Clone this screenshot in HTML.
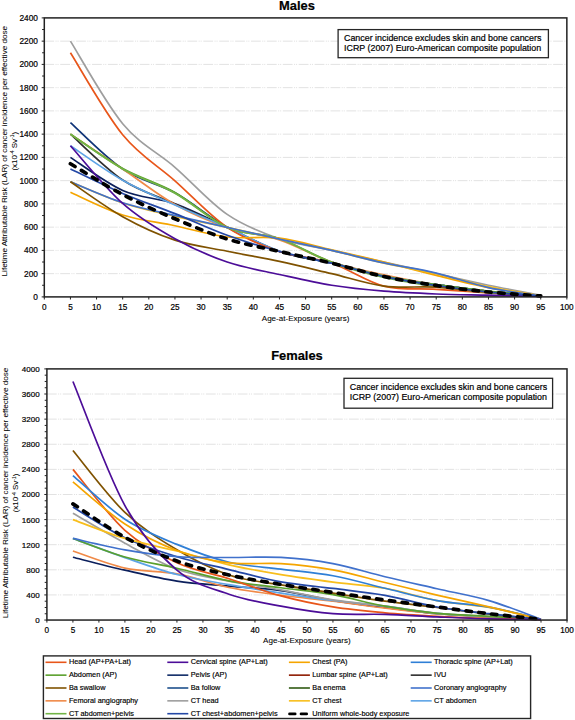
<!DOCTYPE html>
<html><head><meta charset="utf-8"><style>
html,body{margin:0;padding:0;background:#fff;}
svg{display:block;font-family:"Liberation Sans", sans-serif;}
text{fill:#000;stroke:#000;stroke-width:0.2px;}
</style></head><body>
<svg width="575" height="720" viewBox="0 0 575 720">
<text x="297.0" y="9.6" text-anchor="middle" font-size="12.9" font-weight="bold">Males</text>
<line x1="44.3" y1="273.65" x2="566.9" y2="273.65" stroke="#e2e2e2" stroke-width="1" stroke-dasharray="9.8,1.4,1.1,0.9,1.1,1.6"/>
<line x1="44.3" y1="250.40" x2="566.9" y2="250.40" stroke="#e2e2e2" stroke-width="1" stroke-dasharray="9.8,1.4,1.1,0.9,1.1,1.6"/>
<line x1="44.3" y1="227.15" x2="566.9" y2="227.15" stroke="#e2e2e2" stroke-width="1" stroke-dasharray="9.8,1.4,1.1,0.9,1.1,1.6"/>
<line x1="44.3" y1="203.90" x2="566.9" y2="203.90" stroke="#e2e2e2" stroke-width="1" stroke-dasharray="9.8,1.4,1.1,0.9,1.1,1.6"/>
<line x1="44.3" y1="180.65" x2="566.9" y2="180.65" stroke="#e2e2e2" stroke-width="1" stroke-dasharray="9.8,1.4,1.1,0.9,1.1,1.6"/>
<line x1="44.3" y1="157.40" x2="566.9" y2="157.40" stroke="#e2e2e2" stroke-width="1" stroke-dasharray="9.8,1.4,1.1,0.9,1.1,1.6"/>
<line x1="44.3" y1="134.15" x2="566.9" y2="134.15" stroke="#e2e2e2" stroke-width="1" stroke-dasharray="9.8,1.4,1.1,0.9,1.1,1.6"/>
<line x1="44.3" y1="110.90" x2="566.9" y2="110.90" stroke="#e2e2e2" stroke-width="1" stroke-dasharray="9.8,1.4,1.1,0.9,1.1,1.6"/>
<line x1="44.3" y1="87.65" x2="566.9" y2="87.65" stroke="#e2e2e2" stroke-width="1" stroke-dasharray="9.8,1.4,1.1,0.9,1.1,1.6"/>
<line x1="44.3" y1="64.40" x2="566.9" y2="64.40" stroke="#e2e2e2" stroke-width="1" stroke-dasharray="9.8,1.4,1.1,0.9,1.1,1.6"/>
<line x1="44.3" y1="41.15" x2="566.9" y2="41.15" stroke="#e2e2e2" stroke-width="1" stroke-dasharray="9.8,1.4,1.1,0.9,1.1,1.6"/>
<line x1="41.7" y1="296.90" x2="44.3" y2="296.90" stroke="#222" stroke-width="1"/>
<text x="37.9" y="299.90" text-anchor="end" font-size="8.30">0</text>
<line x1="42.1" y1="285.27" x2="44.3" y2="285.27" stroke="#222" stroke-width="1"/>
<line x1="41.7" y1="273.65" x2="44.3" y2="273.65" stroke="#222" stroke-width="1"/>
<text x="37.9" y="276.65" text-anchor="end" font-size="8.30">200</text>
<line x1="42.1" y1="262.02" x2="44.3" y2="262.02" stroke="#222" stroke-width="1"/>
<line x1="41.7" y1="250.40" x2="44.3" y2="250.40" stroke="#222" stroke-width="1"/>
<text x="37.9" y="253.40" text-anchor="end" font-size="8.30">400</text>
<line x1="42.1" y1="238.77" x2="44.3" y2="238.77" stroke="#222" stroke-width="1"/>
<line x1="41.7" y1="227.15" x2="44.3" y2="227.15" stroke="#222" stroke-width="1"/>
<text x="37.9" y="230.15" text-anchor="end" font-size="8.30">600</text>
<line x1="42.1" y1="215.52" x2="44.3" y2="215.52" stroke="#222" stroke-width="1"/>
<line x1="41.7" y1="203.90" x2="44.3" y2="203.90" stroke="#222" stroke-width="1"/>
<text x="37.9" y="206.90" text-anchor="end" font-size="8.30">800</text>
<line x1="42.1" y1="192.27" x2="44.3" y2="192.27" stroke="#222" stroke-width="1"/>
<line x1="41.7" y1="180.65" x2="44.3" y2="180.65" stroke="#222" stroke-width="1"/>
<text x="37.9" y="183.65" text-anchor="end" font-size="8.30">1000</text>
<line x1="42.1" y1="169.02" x2="44.3" y2="169.02" stroke="#222" stroke-width="1"/>
<line x1="41.7" y1="157.40" x2="44.3" y2="157.40" stroke="#222" stroke-width="1"/>
<text x="37.9" y="160.40" text-anchor="end" font-size="8.30">1200</text>
<line x1="42.1" y1="145.77" x2="44.3" y2="145.77" stroke="#222" stroke-width="1"/>
<line x1="41.7" y1="134.15" x2="44.3" y2="134.15" stroke="#222" stroke-width="1"/>
<text x="37.9" y="137.15" text-anchor="end" font-size="8.30">1400</text>
<line x1="42.1" y1="122.52" x2="44.3" y2="122.52" stroke="#222" stroke-width="1"/>
<line x1="41.7" y1="110.90" x2="44.3" y2="110.90" stroke="#222" stroke-width="1"/>
<text x="37.9" y="113.90" text-anchor="end" font-size="8.30">1600</text>
<line x1="42.1" y1="99.27" x2="44.3" y2="99.27" stroke="#222" stroke-width="1"/>
<line x1="41.7" y1="87.65" x2="44.3" y2="87.65" stroke="#222" stroke-width="1"/>
<text x="37.9" y="90.65" text-anchor="end" font-size="8.30">1800</text>
<line x1="42.1" y1="76.02" x2="44.3" y2="76.02" stroke="#222" stroke-width="1"/>
<line x1="41.7" y1="64.40" x2="44.3" y2="64.40" stroke="#222" stroke-width="1"/>
<text x="37.9" y="67.40" text-anchor="end" font-size="8.30">2000</text>
<line x1="42.1" y1="52.77" x2="44.3" y2="52.77" stroke="#222" stroke-width="1"/>
<line x1="41.7" y1="41.15" x2="44.3" y2="41.15" stroke="#222" stroke-width="1"/>
<text x="37.9" y="44.15" text-anchor="end" font-size="8.30">2200</text>
<line x1="42.1" y1="29.52" x2="44.3" y2="29.52" stroke="#222" stroke-width="1"/>
<line x1="41.7" y1="17.90" x2="44.3" y2="17.90" stroke="#222" stroke-width="1"/>
<text x="37.9" y="20.90" text-anchor="end" font-size="8.30">2400</text>
<line x1="44.30" y1="296.9" x2="44.30" y2="299.5" stroke="#222" stroke-width="1"/>
<text x="44.30" y="310.0" text-anchor="middle" font-size="8.2">0</text>
<line x1="70.43" y1="296.9" x2="70.43" y2="299.5" stroke="#222" stroke-width="1"/>
<text x="70.43" y="310.0" text-anchor="middle" font-size="8.2">5</text>
<line x1="96.56" y1="296.9" x2="96.56" y2="299.5" stroke="#222" stroke-width="1"/>
<text x="96.56" y="310.0" text-anchor="middle" font-size="8.2">10</text>
<line x1="122.68" y1="296.9" x2="122.68" y2="299.5" stroke="#222" stroke-width="1"/>
<text x="122.68" y="310.0" text-anchor="middle" font-size="8.2">15</text>
<line x1="148.81" y1="296.9" x2="148.81" y2="299.5" stroke="#222" stroke-width="1"/>
<text x="148.81" y="310.0" text-anchor="middle" font-size="8.2">20</text>
<line x1="174.94" y1="296.9" x2="174.94" y2="299.5" stroke="#222" stroke-width="1"/>
<text x="174.94" y="310.0" text-anchor="middle" font-size="8.2">25</text>
<line x1="201.06" y1="296.9" x2="201.06" y2="299.5" stroke="#222" stroke-width="1"/>
<text x="201.06" y="310.0" text-anchor="middle" font-size="8.2">30</text>
<line x1="227.19" y1="296.9" x2="227.19" y2="299.5" stroke="#222" stroke-width="1"/>
<text x="227.19" y="310.0" text-anchor="middle" font-size="8.2">35</text>
<line x1="253.32" y1="296.9" x2="253.32" y2="299.5" stroke="#222" stroke-width="1"/>
<text x="253.32" y="310.0" text-anchor="middle" font-size="8.2">40</text>
<line x1="279.45" y1="296.9" x2="279.45" y2="299.5" stroke="#222" stroke-width="1"/>
<text x="279.45" y="310.0" text-anchor="middle" font-size="8.2">45</text>
<line x1="305.58" y1="296.9" x2="305.58" y2="299.5" stroke="#222" stroke-width="1"/>
<text x="305.58" y="310.0" text-anchor="middle" font-size="8.2">50</text>
<line x1="331.70" y1="296.9" x2="331.70" y2="299.5" stroke="#222" stroke-width="1"/>
<text x="331.70" y="310.0" text-anchor="middle" font-size="8.2">55</text>
<line x1="357.83" y1="296.9" x2="357.83" y2="299.5" stroke="#222" stroke-width="1"/>
<text x="357.83" y="310.0" text-anchor="middle" font-size="8.2">60</text>
<line x1="383.96" y1="296.9" x2="383.96" y2="299.5" stroke="#222" stroke-width="1"/>
<text x="383.96" y="310.0" text-anchor="middle" font-size="8.2">65</text>
<line x1="410.09" y1="296.9" x2="410.09" y2="299.5" stroke="#222" stroke-width="1"/>
<text x="410.09" y="310.0" text-anchor="middle" font-size="8.2">70</text>
<line x1="436.21" y1="296.9" x2="436.21" y2="299.5" stroke="#222" stroke-width="1"/>
<text x="436.21" y="310.0" text-anchor="middle" font-size="8.2">75</text>
<line x1="462.34" y1="296.9" x2="462.34" y2="299.5" stroke="#222" stroke-width="1"/>
<text x="462.34" y="310.0" text-anchor="middle" font-size="8.2">80</text>
<line x1="488.47" y1="296.9" x2="488.47" y2="299.5" stroke="#222" stroke-width="1"/>
<text x="488.47" y="310.0" text-anchor="middle" font-size="8.2">85</text>
<line x1="514.60" y1="296.9" x2="514.60" y2="299.5" stroke="#222" stroke-width="1"/>
<text x="514.60" y="310.0" text-anchor="middle" font-size="8.2">90</text>
<line x1="540.72" y1="296.9" x2="540.72" y2="299.5" stroke="#222" stroke-width="1"/>
<text x="540.72" y="310.0" text-anchor="middle" font-size="8.2">95</text>
<line x1="566.85" y1="296.9" x2="566.85" y2="299.5" stroke="#222" stroke-width="1"/>
<text x="566.85" y="310.0" text-anchor="middle" font-size="8.2">100</text>
<text x="305.6" y="320.9" text-anchor="middle" font-size="8.05" style="stroke-width:0.08px">Age-at-Exposure (years)</text>
<text transform="translate(7.4,151.2) rotate(-90)" text-anchor="middle" font-size="8.1" style="stroke-width:0.04px">Lifetime Attributable Risk (LAR) of cancer incidence per effective dose</text>
<text transform="translate(17.0,151.2) rotate(-90)" text-anchor="middle" font-size="8.0" style="stroke-width:0.04px">(x10<tspan font-size="5.0" dy="-2.7">-4</tspan><tspan dy="2.7"> Sv</tspan><tspan font-size="5.0" dy="-2.7">-1</tspan><tspan dy="2.7">)</tspan></text>
<path d="M70.43,157.40 C79.14,162.90 105.26,182.66 122.68,190.41 C140.10,198.16 157.52,197.74 174.94,203.90 C192.36,210.06 209.77,219.46 227.19,227.38 C244.61,235.31 262.03,245.48 279.45,251.45 C296.87,257.41 314.28,259.10 331.70,263.19 C349.12,267.28 366.54,272.39 383.96,275.97 C401.38,279.56 418.79,282.14 436.21,284.69 C453.63,287.25 471.05,289.46 488.47,291.32 C505.89,293.18 532.01,295.10 540.72,295.85" fill="none" stroke="#0B1F5C" stroke-width="1.7" stroke-linejoin="round"/>
<path d="M70.43,122.52 C79.14,130.27 105.26,157.30 122.68,169.02 C140.10,180.75 157.52,183.13 174.94,192.86 C192.36,202.58 209.77,217.62 227.19,227.38 C244.61,237.15 262.03,245.48 279.45,251.45 C296.87,257.41 314.28,259.10 331.70,263.19 C349.12,267.28 366.54,272.39 383.96,275.97 C401.38,279.56 418.79,282.14 436.21,284.69 C453.63,287.25 471.05,289.46 488.47,291.32 C505.89,293.18 532.01,295.10 540.72,295.85" fill="none" stroke="#0E3377" stroke-width="1.7" stroke-linejoin="round"/>
<path d="M70.43,134.15 C79.14,141.80 105.26,168.44 122.68,180.07 C140.10,191.69 157.52,196.01 174.94,203.90 C192.36,211.79 209.77,219.46 227.19,227.38 C244.61,235.31 262.03,245.48 279.45,251.45 C296.87,257.41 314.28,259.10 331.70,263.19 C349.12,267.28 366.54,272.39 383.96,275.97 C401.38,279.56 418.79,282.14 436.21,284.69 C453.63,287.25 471.05,289.46 488.47,291.32 C505.89,293.18 532.01,295.10 540.72,295.85" fill="none" stroke="#2E2E2E" stroke-width="1.7" stroke-linejoin="round"/>
<path d="M70.43,41.15 C79.14,54.91 105.26,102.67 122.68,123.69 C140.10,144.71 157.52,152.17 174.94,167.28 C192.36,182.39 209.77,202.45 227.19,214.36 C244.61,226.28 262.03,232.77 279.45,238.77 C296.87,244.78 314.28,246.52 331.70,250.40 C349.12,254.27 366.54,258.15 383.96,262.02 C401.38,265.90 418.79,269.77 436.21,273.65 C453.63,277.52 471.05,281.69 488.47,285.27 C505.89,288.86 532.01,293.51 540.72,295.16" fill="none" stroke="#9E9E9E" stroke-width="1.7" stroke-linejoin="round"/>
<path d="M70.43,134.15 C79.14,139.96 105.26,157.30 122.68,169.02 C140.10,180.75 157.52,194.75 174.94,204.48 C192.36,214.21 209.77,221.47 227.19,227.38 C244.61,233.29 262.03,234.16 279.45,239.94 C296.87,245.71 314.28,256.21 331.70,262.02 C349.12,267.84 366.54,271.03 383.96,274.81 C401.38,278.59 418.79,281.94 436.21,284.69 C453.63,287.44 471.05,289.46 488.47,291.32 C505.89,293.18 532.01,295.10 540.72,295.85" fill="none" stroke="#F08A48" stroke-width="1.7" stroke-linejoin="round"/>
<path d="M70.43,145.77 C79.14,151.53 105.26,170.42 122.68,180.30 C140.10,190.18 157.52,197.22 174.94,205.06 C192.36,212.91 209.77,219.73 227.19,227.38 C244.61,235.04 262.03,245.01 279.45,250.98 C296.87,256.95 314.28,259.02 331.70,263.19 C349.12,267.35 366.54,272.39 383.96,275.97 C401.38,279.56 418.79,282.14 436.21,284.69 C453.63,287.25 471.05,289.46 488.47,291.32 C505.89,293.18 532.01,295.10 540.72,295.85" fill="none" stroke="#5DA4E6" stroke-width="1.7" stroke-linejoin="round"/>
<path d="M70.43,52.77 C79.14,66.43 105.26,113.38 122.68,134.73 C140.10,156.08 157.52,165.44 174.94,180.88 C192.36,196.32 209.77,215.62 227.19,227.38 C244.61,239.14 262.03,245.48 279.45,251.45 C296.87,257.41 314.28,257.41 331.70,263.19 C349.12,268.96 366.54,281.73 383.96,286.09 C401.38,290.45 418.79,288.22 436.21,289.34 C453.63,290.47 471.05,291.73 488.47,292.83 C505.89,293.94 532.01,295.45 540.72,295.97" fill="none" stroke="#E8561A" stroke-width="1.7" stroke-linejoin="round"/>
<path d="M70.43,134.15 C79.14,139.87 105.26,158.74 122.68,168.44 C140.10,178.15 157.52,182.57 174.94,192.39 C192.36,202.21 209.77,219.65 227.19,227.38 C244.61,235.11 262.03,233.00 279.45,238.77 C296.87,244.55 314.28,255.82 331.70,262.02 C349.12,268.22 366.54,272.20 383.96,275.97 C401.38,279.75 418.79,282.17 436.21,284.69 C453.63,287.21 471.05,289.25 488.47,291.09 C505.89,292.93 532.01,294.96 540.72,295.74" fill="none" stroke="#5AA02C" stroke-width="1.7" stroke-linejoin="round"/>
<path d="M70.43,134.15 C79.14,139.96 105.26,159.18 122.68,169.02 C140.10,178.87 157.52,183.48 174.94,193.20 C192.36,202.93 209.77,219.79 227.19,227.38 C244.61,234.98 262.03,232.90 279.45,238.77 C296.87,244.65 314.28,256.17 331.70,262.61 C349.12,269.04 366.54,273.40 383.96,277.37 C401.38,281.34 418.79,283.92 436.21,286.44 C453.63,288.96 471.05,290.85 488.47,292.48 C505.89,294.11 532.01,295.58 540.72,296.20" fill="none" stroke="#72B446" stroke-width="1.7" stroke-linejoin="round"/>
<path d="M70.43,192.27 C79.14,196.05 105.26,209.36 122.68,214.94 C140.10,220.52 157.52,222.07 174.94,225.75 C192.36,229.44 209.77,234.96 227.19,237.03 C244.61,239.10 262.03,236.06 279.45,238.19 C296.87,240.32 314.28,245.85 331.70,249.82 C349.12,253.79 366.54,257.76 383.96,262.02 C401.38,266.29 418.79,271.13 436.21,275.39 C453.63,279.66 471.05,284.21 488.47,287.60 C505.89,290.99 532.01,294.38 540.72,295.74" fill="none" stroke="#F5A500" stroke-width="1.7" stroke-linejoin="round"/>
<path d="M70.43,181.81 C79.14,185.34 105.26,197.22 122.68,202.97 C140.10,208.72 157.52,212.27 174.94,216.34 C192.36,220.41 209.77,223.58 227.19,227.38 C244.61,231.18 262.03,235.29 279.45,239.12 C296.87,242.96 314.28,246.39 331.70,250.40 C349.12,254.41 366.54,259.31 383.96,263.19 C401.38,267.06 418.79,269.74 436.21,273.65 C453.63,277.56 471.05,282.95 488.47,286.67 C505.89,290.39 532.01,294.42 540.72,295.97" fill="none" stroke="#F8BE1C" stroke-width="1.7" stroke-linejoin="round"/>
<path d="M70.43,181.81 C79.14,185.30 105.26,197.12 122.68,202.74 C140.10,208.36 157.52,211.42 174.94,215.52 C192.36,219.63 209.77,223.45 227.19,227.38 C244.61,231.32 262.03,235.29 279.45,239.12 C296.87,242.96 314.28,246.43 331.70,250.40 C349.12,254.37 366.54,259.18 383.96,262.95 C401.38,266.73 418.79,268.96 436.21,273.07 C453.63,277.18 471.05,283.76 488.47,287.60 C505.89,291.44 532.01,294.67 540.72,296.09" fill="none" stroke="#4071CC" stroke-width="1.7" stroke-linejoin="round"/>
<path d="M70.43,181.81 C79.14,187.62 105.26,206.96 122.68,216.69 C140.10,226.41 157.52,234.42 174.94,240.17 C192.36,245.92 209.77,247.67 227.19,251.21 C244.61,254.76 262.03,257.70 279.45,261.44 C296.87,265.18 314.28,269.54 331.70,273.65 C349.12,277.76 366.54,283.84 383.96,286.09 C401.38,288.34 418.79,286.11 436.21,287.13 C453.63,288.16 471.05,290.72 488.47,292.25 C505.89,293.78 532.01,295.64 540.72,296.32" fill="none" stroke="#7F5200" stroke-width="1.7" stroke-linejoin="round"/>
<path d="M70.43,145.77 C79.14,155.38 105.26,187.93 122.68,203.43 C140.10,218.93 157.52,229.01 174.94,238.77 C192.36,248.54 209.77,256.08 227.19,262.02 C244.61,267.97 262.03,270.59 279.45,274.46 C296.87,278.34 314.28,282.49 331.70,285.27 C349.12,288.06 366.54,289.75 383.96,291.20 C401.38,292.66 418.79,293.33 436.21,293.99 C453.63,294.65 471.05,294.77 488.47,295.16 C505.89,295.54 532.01,296.12 540.72,296.32" fill="none" stroke="#4C0D98" stroke-width="1.7" stroke-linejoin="round"/>
<path d="M70.43,169.02 C79.14,173.09 105.26,186.00 122.68,193.44 C140.10,200.88 157.52,206.69 174.94,213.66 C192.36,220.64 209.77,228.99 227.19,235.29 C244.61,241.58 262.03,246.80 279.45,251.45 C296.87,256.10 314.28,259.00 331.70,263.19 C349.12,267.37 366.54,272.84 383.96,276.56 C401.38,280.28 418.79,282.93 436.21,285.51 C453.63,288.08 471.05,290.27 488.47,292.02 C505.89,293.76 532.01,295.31 540.72,295.97" fill="none" stroke="#2448A6" stroke-width="1.7" stroke-linejoin="round"/>
<path d="M70.43,163.79 C79.14,168.93 105.26,185.44 122.68,194.60 C140.10,203.76 157.52,211.38 174.94,218.78 C192.36,226.18 209.77,233.56 227.19,239.01 C244.61,244.45 262.03,247.42 279.45,251.45 C296.87,255.48 314.28,259.00 331.70,263.19 C349.12,267.37 366.54,272.84 383.96,276.56 C401.38,280.28 418.79,282.93 436.21,285.51 C453.63,288.08 471.05,290.27 488.47,292.02 C505.89,293.76 532.01,295.31 540.72,295.97" fill="none" stroke="#000" stroke-width="3.7" stroke-dasharray="5.4,7.5" stroke-linecap="round"/>
<rect x="44.30" y="17.90" width="522.55" height="279.00" fill="none" stroke="#222" stroke-width="1.5"/>
<rect x="338.1" y="29.6" width="210.3" height="28.1" fill="#fff" stroke="#262626" stroke-width="1.3"/><text x="344.0" y="40.9" font-size="8.88">Cancer incidence excludes skin and bone cancers</text><text x="344.0" y="50.5" font-size="8.88">ICRP (2007) Euro-American composite population</text>
<text x="297.0" y="360.0" text-anchor="middle" font-size="12.9" font-weight="bold">Females</text>
<line x1="46.9" y1="594.93" x2="567.0" y2="594.93" stroke="#e2e2e2" stroke-width="1" stroke-dasharray="9.8,1.4,1.1,0.9,1.1,1.6"/>
<line x1="46.9" y1="569.82" x2="567.0" y2="569.82" stroke="#e2e2e2" stroke-width="1" stroke-dasharray="9.8,1.4,1.1,0.9,1.1,1.6"/>
<line x1="46.9" y1="544.70" x2="567.0" y2="544.70" stroke="#e2e2e2" stroke-width="1" stroke-dasharray="9.8,1.4,1.1,0.9,1.1,1.6"/>
<line x1="46.9" y1="519.59" x2="567.0" y2="519.59" stroke="#e2e2e2" stroke-width="1" stroke-dasharray="9.8,1.4,1.1,0.9,1.1,1.6"/>
<line x1="46.9" y1="494.47" x2="567.0" y2="494.47" stroke="#e2e2e2" stroke-width="1" stroke-dasharray="9.8,1.4,1.1,0.9,1.1,1.6"/>
<line x1="46.9" y1="469.36" x2="567.0" y2="469.36" stroke="#e2e2e2" stroke-width="1" stroke-dasharray="9.8,1.4,1.1,0.9,1.1,1.6"/>
<line x1="46.9" y1="444.25" x2="567.0" y2="444.25" stroke="#e2e2e2" stroke-width="1" stroke-dasharray="9.8,1.4,1.1,0.9,1.1,1.6"/>
<line x1="46.9" y1="419.13" x2="567.0" y2="419.13" stroke="#e2e2e2" stroke-width="1" stroke-dasharray="9.8,1.4,1.1,0.9,1.1,1.6"/>
<line x1="46.9" y1="394.01" x2="567.0" y2="394.01" stroke="#e2e2e2" stroke-width="1" stroke-dasharray="9.8,1.4,1.1,0.9,1.1,1.6"/>
<line x1="44.3" y1="620.05" x2="46.9" y2="620.05" stroke="#222" stroke-width="1"/>
<text x="39.6" y="623.05" text-anchor="end" font-size="8.00">0</text>
<line x1="44.7" y1="613.77" x2="46.9" y2="613.77" stroke="#222" stroke-width="1"/>
<line x1="44.7" y1="607.49" x2="46.9" y2="607.49" stroke="#222" stroke-width="1"/>
<line x1="44.7" y1="601.21" x2="46.9" y2="601.21" stroke="#222" stroke-width="1"/>
<line x1="44.3" y1="594.93" x2="46.9" y2="594.93" stroke="#222" stroke-width="1"/>
<text x="39.6" y="597.93" text-anchor="end" font-size="8.00">400</text>
<line x1="44.7" y1="588.66" x2="46.9" y2="588.66" stroke="#222" stroke-width="1"/>
<line x1="44.7" y1="582.38" x2="46.9" y2="582.38" stroke="#222" stroke-width="1"/>
<line x1="44.7" y1="576.10" x2="46.9" y2="576.10" stroke="#222" stroke-width="1"/>
<line x1="44.3" y1="569.82" x2="46.9" y2="569.82" stroke="#222" stroke-width="1"/>
<text x="39.6" y="572.82" text-anchor="end" font-size="8.00">800</text>
<line x1="44.7" y1="563.54" x2="46.9" y2="563.54" stroke="#222" stroke-width="1"/>
<line x1="44.7" y1="557.26" x2="46.9" y2="557.26" stroke="#222" stroke-width="1"/>
<line x1="44.7" y1="550.98" x2="46.9" y2="550.98" stroke="#222" stroke-width="1"/>
<line x1="44.3" y1="544.70" x2="46.9" y2="544.70" stroke="#222" stroke-width="1"/>
<text x="39.6" y="547.70" text-anchor="end" font-size="8.00">1200</text>
<line x1="44.7" y1="538.43" x2="46.9" y2="538.43" stroke="#222" stroke-width="1"/>
<line x1="44.7" y1="532.15" x2="46.9" y2="532.15" stroke="#222" stroke-width="1"/>
<line x1="44.7" y1="525.87" x2="46.9" y2="525.87" stroke="#222" stroke-width="1"/>
<line x1="44.3" y1="519.59" x2="46.9" y2="519.59" stroke="#222" stroke-width="1"/>
<text x="39.6" y="522.59" text-anchor="end" font-size="8.00">1600</text>
<line x1="44.7" y1="513.31" x2="46.9" y2="513.31" stroke="#222" stroke-width="1"/>
<line x1="44.7" y1="507.03" x2="46.9" y2="507.03" stroke="#222" stroke-width="1"/>
<line x1="44.7" y1="500.75" x2="46.9" y2="500.75" stroke="#222" stroke-width="1"/>
<line x1="44.3" y1="494.47" x2="46.9" y2="494.47" stroke="#222" stroke-width="1"/>
<text x="39.6" y="497.47" text-anchor="end" font-size="8.00">2000</text>
<line x1="44.7" y1="488.20" x2="46.9" y2="488.20" stroke="#222" stroke-width="1"/>
<line x1="44.7" y1="481.92" x2="46.9" y2="481.92" stroke="#222" stroke-width="1"/>
<line x1="44.7" y1="475.64" x2="46.9" y2="475.64" stroke="#222" stroke-width="1"/>
<line x1="44.3" y1="469.36" x2="46.9" y2="469.36" stroke="#222" stroke-width="1"/>
<text x="39.6" y="472.36" text-anchor="end" font-size="8.00">2400</text>
<line x1="44.7" y1="463.08" x2="46.9" y2="463.08" stroke="#222" stroke-width="1"/>
<line x1="44.7" y1="456.80" x2="46.9" y2="456.80" stroke="#222" stroke-width="1"/>
<line x1="44.7" y1="450.52" x2="46.9" y2="450.52" stroke="#222" stroke-width="1"/>
<line x1="44.3" y1="444.25" x2="46.9" y2="444.25" stroke="#222" stroke-width="1"/>
<text x="39.6" y="447.25" text-anchor="end" font-size="8.00">2800</text>
<line x1="44.7" y1="437.97" x2="46.9" y2="437.97" stroke="#222" stroke-width="1"/>
<line x1="44.7" y1="431.69" x2="46.9" y2="431.69" stroke="#222" stroke-width="1"/>
<line x1="44.7" y1="425.41" x2="46.9" y2="425.41" stroke="#222" stroke-width="1"/>
<line x1="44.3" y1="419.13" x2="46.9" y2="419.13" stroke="#222" stroke-width="1"/>
<text x="39.6" y="422.13" text-anchor="end" font-size="8.00">3200</text>
<line x1="44.7" y1="412.85" x2="46.9" y2="412.85" stroke="#222" stroke-width="1"/>
<line x1="44.7" y1="406.57" x2="46.9" y2="406.57" stroke="#222" stroke-width="1"/>
<line x1="44.7" y1="400.29" x2="46.9" y2="400.29" stroke="#222" stroke-width="1"/>
<line x1="44.3" y1="394.01" x2="46.9" y2="394.01" stroke="#222" stroke-width="1"/>
<text x="39.6" y="397.01" text-anchor="end" font-size="8.00">3600</text>
<line x1="44.7" y1="387.74" x2="46.9" y2="387.74" stroke="#222" stroke-width="1"/>
<line x1="44.7" y1="381.46" x2="46.9" y2="381.46" stroke="#222" stroke-width="1"/>
<line x1="44.7" y1="375.18" x2="46.9" y2="375.18" stroke="#222" stroke-width="1"/>
<line x1="44.3" y1="368.90" x2="46.9" y2="368.90" stroke="#222" stroke-width="1"/>
<text x="39.6" y="371.90" text-anchor="end" font-size="8.00">4000</text>
<line x1="46.90" y1="620.0" x2="46.90" y2="622.6" stroke="#222" stroke-width="1"/>
<text x="46.90" y="633.0" text-anchor="middle" font-size="8.2">0</text>
<line x1="72.91" y1="620.0" x2="72.91" y2="622.6" stroke="#222" stroke-width="1"/>
<text x="72.91" y="633.0" text-anchor="middle" font-size="8.2">5</text>
<line x1="98.91" y1="620.0" x2="98.91" y2="622.6" stroke="#222" stroke-width="1"/>
<text x="98.91" y="633.0" text-anchor="middle" font-size="8.2">10</text>
<line x1="124.91" y1="620.0" x2="124.91" y2="622.6" stroke="#222" stroke-width="1"/>
<text x="124.91" y="633.0" text-anchor="middle" font-size="8.2">15</text>
<line x1="150.92" y1="620.0" x2="150.92" y2="622.6" stroke="#222" stroke-width="1"/>
<text x="150.92" y="633.0" text-anchor="middle" font-size="8.2">20</text>
<line x1="176.93" y1="620.0" x2="176.93" y2="622.6" stroke="#222" stroke-width="1"/>
<text x="176.93" y="633.0" text-anchor="middle" font-size="8.2">25</text>
<line x1="202.93" y1="620.0" x2="202.93" y2="622.6" stroke="#222" stroke-width="1"/>
<text x="202.93" y="633.0" text-anchor="middle" font-size="8.2">30</text>
<line x1="228.94" y1="620.0" x2="228.94" y2="622.6" stroke="#222" stroke-width="1"/>
<text x="228.94" y="633.0" text-anchor="middle" font-size="8.2">35</text>
<line x1="254.94" y1="620.0" x2="254.94" y2="622.6" stroke="#222" stroke-width="1"/>
<text x="254.94" y="633.0" text-anchor="middle" font-size="8.2">40</text>
<line x1="280.94" y1="620.0" x2="280.94" y2="622.6" stroke="#222" stroke-width="1"/>
<text x="280.94" y="633.0" text-anchor="middle" font-size="8.2">45</text>
<line x1="306.95" y1="620.0" x2="306.95" y2="622.6" stroke="#222" stroke-width="1"/>
<text x="306.95" y="633.0" text-anchor="middle" font-size="8.2">50</text>
<line x1="332.95" y1="620.0" x2="332.95" y2="622.6" stroke="#222" stroke-width="1"/>
<text x="332.95" y="633.0" text-anchor="middle" font-size="8.2">55</text>
<line x1="358.96" y1="620.0" x2="358.96" y2="622.6" stroke="#222" stroke-width="1"/>
<text x="358.96" y="633.0" text-anchor="middle" font-size="8.2">60</text>
<line x1="384.96" y1="620.0" x2="384.96" y2="622.6" stroke="#222" stroke-width="1"/>
<text x="384.96" y="633.0" text-anchor="middle" font-size="8.2">65</text>
<line x1="410.97" y1="620.0" x2="410.97" y2="622.6" stroke="#222" stroke-width="1"/>
<text x="410.97" y="633.0" text-anchor="middle" font-size="8.2">70</text>
<line x1="436.97" y1="620.0" x2="436.97" y2="622.6" stroke="#222" stroke-width="1"/>
<text x="436.97" y="633.0" text-anchor="middle" font-size="8.2">75</text>
<line x1="462.98" y1="620.0" x2="462.98" y2="622.6" stroke="#222" stroke-width="1"/>
<text x="462.98" y="633.0" text-anchor="middle" font-size="8.2">80</text>
<line x1="488.98" y1="620.0" x2="488.98" y2="622.6" stroke="#222" stroke-width="1"/>
<text x="488.98" y="633.0" text-anchor="middle" font-size="8.2">85</text>
<line x1="514.99" y1="620.0" x2="514.99" y2="622.6" stroke="#222" stroke-width="1"/>
<text x="514.99" y="633.0" text-anchor="middle" font-size="8.2">90</text>
<line x1="541.00" y1="620.0" x2="541.00" y2="622.6" stroke="#222" stroke-width="1"/>
<text x="541.00" y="633.0" text-anchor="middle" font-size="8.2">95</text>
<line x1="567.00" y1="620.0" x2="567.00" y2="622.6" stroke="#222" stroke-width="1"/>
<text x="567.00" y="633.0" text-anchor="middle" font-size="8.2">100</text>
<text x="306.9" y="643.4" text-anchor="middle" font-size="8.05" style="stroke-width:0.08px">Age-at-Exposure (years)</text>
<text transform="translate(7.8,493.0) rotate(-90)" text-anchor="middle" font-size="8.1" style="stroke-width:0.04px">Lifetime Attributable Risk (LAR) of cancer incidence per effective dose</text>
<text transform="translate(18.4,493.0) rotate(-90)" text-anchor="middle" font-size="8.0" style="stroke-width:0.04px">(x10<tspan font-size="5.0" dy="-2.7">-4</tspan><tspan dy="2.7"> Sv</tspan><tspan font-size="5.0" dy="-2.7">-1</tspan><tspan dy="2.7">)</tspan></text>
<path d="M72.91,557.26 C81.57,559.42 107.58,566.22 124.91,570.20 C142.25,574.17 159.59,578.46 176.93,581.12 C194.26,583.78 211.60,584.58 228.94,586.14 C246.27,587.71 263.61,588.13 280.94,590.54 C298.28,592.95 315.62,597.76 332.95,600.59 C350.29,603.41 367.63,605.29 384.96,607.49 C402.30,609.69 419.64,612.20 436.97,613.77 C454.31,615.34 471.65,615.97 488.98,616.91 C506.32,617.85 532.33,619.00 541.00,619.42" fill="none" stroke="#0B1F5C" stroke-width="1.7" stroke-linejoin="round"/>
<path d="M72.91,550.98 C81.57,553.83 107.58,564.24 124.91,568.06 C142.25,571.88 159.59,570.66 176.93,573.90 C194.26,577.15 211.60,583.97 228.94,587.53 C246.27,591.08 263.61,592.97 280.94,595.25 C298.28,597.53 315.62,599.07 332.95,601.21 C350.29,603.36 367.63,606.03 384.96,608.12 C402.30,610.21 419.64,612.31 436.97,613.77 C454.31,615.24 471.65,615.97 488.98,616.91 C506.32,617.85 532.33,619.00 541.00,619.42" fill="none" stroke="#F08A48" stroke-width="1.7" stroke-linejoin="round"/>
<path d="M72.91,538.43 C81.57,541.62 107.58,551.56 124.91,557.58 C142.25,563.59 159.59,570.03 176.93,574.53 C194.26,579.03 211.60,581.49 228.94,584.58 C246.27,587.66 263.61,590.39 280.94,593.05 C298.28,595.71 315.62,598.34 332.95,600.52 C350.29,602.71 367.63,604.04 384.96,606.17 C402.30,608.31 419.64,611.59 436.97,613.33 C454.31,615.07 471.65,615.58 488.98,616.60 C506.32,617.61 532.33,618.95 541.00,619.42" fill="none" stroke="#5DA4E6" stroke-width="1.7" stroke-linejoin="round"/>
<path d="M72.91,513.31 C81.57,518.28 107.58,533.82 124.91,543.14 C142.25,552.45 159.59,562.86 176.93,569.19 C194.26,575.52 211.60,577.67 228.94,581.12 C246.27,584.58 263.61,586.77 280.94,589.91 C298.28,593.05 315.62,597.25 332.95,599.96 C350.29,602.67 367.63,603.95 384.96,606.17 C402.30,608.40 419.64,611.59 436.97,613.33 C454.31,615.07 471.65,615.58 488.98,616.60 C506.32,617.61 532.33,618.95 541.00,619.42" fill="none" stroke="#9E9E9E" stroke-width="1.7" stroke-linejoin="round"/>
<path d="M72.91,538.43 C81.57,541.52 107.58,552.04 124.91,557.01 C142.25,561.98 159.59,564.28 176.93,568.25 C194.26,572.22 211.60,577.55 228.94,580.81 C246.27,584.06 263.61,585.46 280.94,587.78 C298.28,590.09 315.62,591.62 332.95,594.68 C350.29,597.75 367.63,603.07 384.96,606.17 C402.30,609.28 419.64,611.65 436.97,613.33 C454.31,615.02 471.65,615.27 488.98,616.28 C506.32,617.30 532.33,618.90 541.00,619.42" fill="none" stroke="#5AA02C" stroke-width="1.7" stroke-linejoin="round"/>
<path d="M72.91,469.36 C81.57,479.51 107.58,514.69 124.91,530.26 C142.25,545.84 159.59,554.71 176.93,562.79 C194.26,570.87 211.60,573.22 228.94,578.74 C246.27,584.25 263.61,591.18 280.94,595.88 C298.28,600.58 315.62,604.10 332.95,606.93 C350.29,609.75 367.63,611.27 384.96,612.83 C402.30,614.39 419.64,615.34 436.97,616.28 C454.31,617.22 471.65,617.94 488.98,618.48 C506.32,619.02 532.33,619.37 541.00,619.55" fill="none" stroke="#E8561A" stroke-width="1.7" stroke-linejoin="round"/>
<path d="M72.91,450.52 C81.57,460.83 107.58,495.81 124.91,512.37 C142.25,528.92 159.59,539.42 176.93,549.85 C194.26,560.29 211.60,569.13 228.94,574.97 C246.27,580.81 263.61,581.88 280.94,584.89 C298.28,587.90 315.62,590.33 332.95,593.05 C350.29,595.77 367.63,598.81 384.96,601.21 C402.30,603.62 419.64,605.35 436.97,607.49 C454.31,609.64 471.65,612.12 488.98,614.09 C506.32,616.05 532.33,618.43 541.00,619.30" fill="none" stroke="#7F5200" stroke-width="1.7" stroke-linejoin="round"/>
<path d="M72.91,507.03 C81.57,512.16 107.58,529.52 124.91,537.80 C142.25,546.08 159.59,551.40 176.93,556.70 C194.26,561.99 211.60,565.37 228.94,569.57 C246.27,573.77 263.61,578.74 280.94,581.88 C298.28,585.01 315.62,586.17 332.95,588.41 C350.29,590.64 367.63,592.21 384.96,595.31 C402.30,598.41 419.64,603.92 436.97,606.99 C454.31,610.06 471.65,611.66 488.98,613.71 C506.32,615.76 532.33,618.37 541.00,619.30" fill="none" stroke="#2448A6" stroke-width="1.7" stroke-linejoin="round"/>
<path d="M72.91,519.59 C81.57,522.73 107.58,533.19 124.91,538.43 C142.25,543.66 159.59,546.59 176.93,550.98 C194.26,555.38 211.60,560.86 228.94,564.80 C246.27,568.73 263.61,571.71 280.94,574.59 C298.28,577.47 315.62,579.78 332.95,582.06 C350.29,584.34 367.63,585.19 384.96,588.28 C402.30,591.37 419.64,597.38 436.97,600.59 C454.31,603.79 471.65,604.37 488.98,607.49 C506.32,610.61 532.33,617.33 541.00,619.30" fill="none" stroke="#F8BE1C" stroke-width="1.7" stroke-linejoin="round"/>
<path d="M72.91,475.64 C81.57,482.90 107.58,507.75 124.91,519.21 C142.25,530.67 159.59,537.21 176.93,544.39 C194.26,551.57 211.60,558.16 228.94,562.29 C246.27,566.41 263.61,566.88 280.94,569.13 C298.28,571.38 315.62,572.59 332.95,575.78 C350.29,578.98 367.63,584.15 384.96,588.28 C402.30,592.41 419.64,597.44 436.97,600.59 C454.31,603.74 471.65,604.06 488.98,607.18 C506.32,610.30 532.33,617.28 541.00,619.30" fill="none" stroke="#2F7FD6" stroke-width="1.7" stroke-linejoin="round"/>
<path d="M72.91,481.92 C81.57,488.93 107.58,512.56 124.91,523.99 C142.25,535.41 159.59,543.99 176.93,550.48 C194.26,556.97 211.60,560.74 228.94,562.91 C246.27,565.09 263.61,562.38 280.94,563.54 C298.28,564.70 315.62,566.72 332.95,569.88 C350.29,573.04 367.63,578.30 384.96,582.50 C402.30,586.71 419.64,591.06 436.97,595.12 C454.31,599.18 471.65,602.84 488.98,606.86 C506.32,610.89 532.33,617.22 541.00,619.30" fill="none" stroke="#F5A500" stroke-width="1.7" stroke-linejoin="round"/>
<path d="M72.91,538.43 C81.57,540.32 107.58,546.76 124.91,549.79 C142.25,552.83 159.59,555.35 176.93,556.63 C194.26,557.92 211.60,557.39 228.94,557.51 C246.27,557.64 263.61,556.37 280.94,557.39 C298.28,558.40 315.62,560.38 332.95,563.60 C350.29,566.83 367.63,572.54 384.96,576.73 C402.30,580.91 419.64,584.74 436.97,588.72 C454.31,592.70 471.65,595.49 488.98,600.59 C506.32,605.68 532.33,616.18 541.00,619.30" fill="none" stroke="#4071CC" stroke-width="1.7" stroke-linejoin="round"/>
<path d="M72.91,381.46 C81.57,402.15 107.58,474.14 124.91,505.59 C142.25,537.03 159.59,555.37 176.93,570.13 C194.26,584.90 211.60,588.17 228.94,594.18 C246.27,600.19 263.61,602.92 280.94,606.17 C298.28,609.43 315.62,612.34 332.95,613.71 C350.29,615.08 367.63,613.87 384.96,614.40 C402.30,614.93 419.64,616.16 436.97,616.91 C454.31,617.66 471.65,618.48 488.98,618.92 C506.32,619.36 532.33,619.44 541.00,619.55" fill="none" stroke="#4C0D98" stroke-width="1.7" stroke-linejoin="round"/>
<path d="M72.91,503.89 C81.57,509.46 107.58,527.76 124.91,537.30 C142.25,546.83 159.59,554.81 176.93,561.09 C194.26,567.37 211.60,571.09 228.94,574.97 C246.27,578.85 263.61,581.47 280.94,584.39 C298.28,587.31 315.62,589.88 332.95,592.49 C350.29,595.09 367.63,597.60 384.96,600.02 C402.30,602.44 419.64,604.71 436.97,606.99 C454.31,609.27 471.65,611.66 488.98,613.71 C506.32,615.76 532.33,618.37 541.00,619.30" fill="none" stroke="#000" stroke-width="3.7" stroke-dasharray="5.4,7.5" stroke-linecap="round"/>
<rect x="46.90" y="368.90" width="520.10" height="251.15" fill="none" stroke="#222" stroke-width="1.5"/>
<rect x="344.0" y="378.3" width="208.6" height="29.9" fill="#fff" stroke="#262626" stroke-width="1.3"/><text x="349.8" y="389.5" font-size="8.88">Cancer incidence excludes skin and bone cancers</text><text x="349.8" y="399.5" font-size="8.88">ICRP (2007) Euro-American composite population</text>
<rect x="43.4" y="655.9" width="487.2" height="62.6" fill="#fff" stroke="#262626" stroke-width="1.4"/>
<line x1="45.5" y1="662.30" x2="66.5" y2="662.30" stroke="#E8561A" stroke-width="1.6"/>
<text x="68.9" y="664.30" font-size="7.32" style="stroke-width:0.16px">Head (AP+PA+Lat)</text>
<line x1="167.3" y1="662.30" x2="188.3" y2="662.30" stroke="#4C0D98" stroke-width="1.6"/>
<text x="190.7" y="664.30" font-size="7.32" style="stroke-width:0.16px">Cervical spine (AP+Lat)</text>
<line x1="288.9" y1="662.30" x2="309.9" y2="662.30" stroke="#F5A500" stroke-width="1.6"/>
<text x="312.3" y="664.30" font-size="7.32" style="stroke-width:0.16px">Chest (PA)</text>
<line x1="410.7" y1="662.30" x2="431.7" y2="662.30" stroke="#2F7FD6" stroke-width="1.6"/>
<text x="434.1" y="664.30" font-size="7.32" style="stroke-width:0.16px">Thoracic spine (AP+Lat)</text>
<line x1="45.5" y1="675.15" x2="66.5" y2="675.15" stroke="#5AA02C" stroke-width="1.6"/>
<text x="68.9" y="677.15" font-size="7.32" style="stroke-width:0.16px">Abdomen (AP)</text>
<line x1="167.3" y1="675.15" x2="188.3" y2="675.15" stroke="#0E2A66" stroke-width="1.6"/>
<text x="190.7" y="677.15" font-size="7.32" style="stroke-width:0.16px">Pelvis (AP)</text>
<line x1="288.9" y1="675.15" x2="309.9" y2="675.15" stroke="#8E1B00" stroke-width="1.6"/>
<text x="312.3" y="677.15" font-size="7.32" style="stroke-width:0.16px">Lumbar spine (AP+Lat)</text>
<line x1="410.7" y1="675.15" x2="431.7" y2="675.15" stroke="#2E2E2E" stroke-width="1.6"/>
<text x="434.1" y="677.15" font-size="7.32" style="stroke-width:0.16px">IVU</text>
<line x1="45.5" y1="688.00" x2="66.5" y2="688.00" stroke="#7F5200" stroke-width="1.6"/>
<text x="68.9" y="690.00" font-size="7.32" style="stroke-width:0.16px">Ba swallow</text>
<line x1="167.3" y1="688.00" x2="188.3" y2="688.00" stroke="#1D508C" stroke-width="1.6"/>
<text x="190.7" y="690.00" font-size="7.32" style="stroke-width:0.16px">Ba follow</text>
<line x1="288.9" y1="688.00" x2="309.9" y2="688.00" stroke="#2F5A12" stroke-width="1.6"/>
<text x="312.3" y="690.00" font-size="7.32" style="stroke-width:0.16px">Ba enema</text>
<line x1="410.7" y1="688.00" x2="431.7" y2="688.00" stroke="#4071CC" stroke-width="1.6"/>
<text x="434.1" y="690.00" font-size="7.32" style="stroke-width:0.16px">Coronary angiography</text>
<line x1="45.5" y1="700.85" x2="66.5" y2="700.85" stroke="#F08A48" stroke-width="1.6"/>
<text x="68.9" y="702.85" font-size="7.32" style="stroke-width:0.16px">Femoral angiography</text>
<line x1="167.3" y1="700.85" x2="188.3" y2="700.85" stroke="#9E9E9E" stroke-width="1.6"/>
<text x="190.7" y="702.85" font-size="7.32" style="stroke-width:0.16px">CT head</text>
<line x1="288.9" y1="700.85" x2="309.9" y2="700.85" stroke="#F8BE1C" stroke-width="1.6"/>
<text x="312.3" y="702.85" font-size="7.32" style="stroke-width:0.16px">CT chest</text>
<line x1="410.7" y1="700.85" x2="431.7" y2="700.85" stroke="#5DA4E6" stroke-width="1.6"/>
<text x="434.1" y="702.85" font-size="7.32" style="stroke-width:0.16px">CT abdomen</text>
<line x1="45.5" y1="713.70" x2="66.5" y2="713.70" stroke="#72B446" stroke-width="1.6"/>
<text x="68.9" y="715.70" font-size="7.32" style="stroke-width:0.16px">CT abdomen+pelvis</text>
<line x1="167.3" y1="713.70" x2="188.3" y2="713.70" stroke="#2448A6" stroke-width="1.6"/>
<text x="190.7" y="715.70" font-size="7.32" style="stroke-width:0.16px">CT chest+abdomen+pelvis</text>
<line x1="289.6" y1="713.90" x2="306.6" y2="713.90" stroke="#000" stroke-width="2.9" stroke-dasharray="5.5,6" stroke-linecap="round"/>
<text x="312.3" y="715.70" font-size="7.32" style="stroke-width:0.16px">Uniform whole-body exposure</text>
</svg>
</body></html>
